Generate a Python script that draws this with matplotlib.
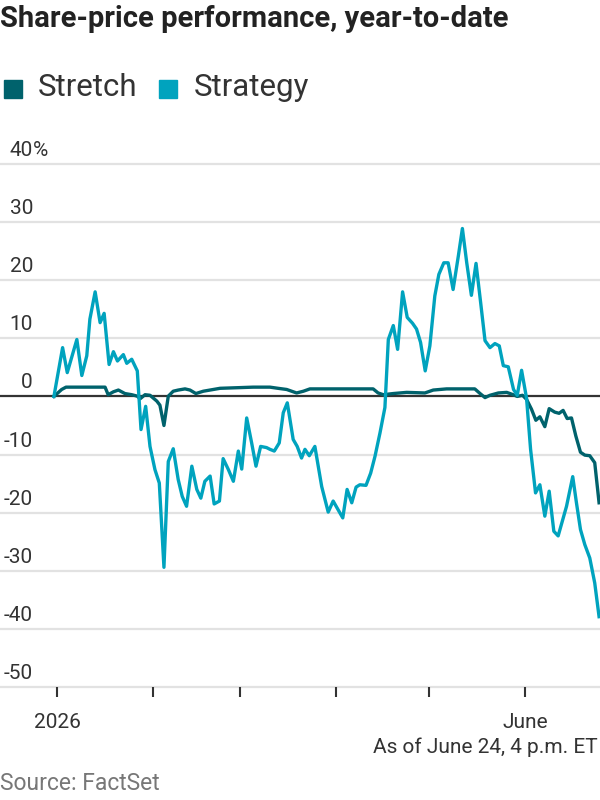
import numpy as np
import pandas as pd
import matplotlib.pyplot as plt
import matplotlib.transforms as mtransforms
from matplotlib.patches import Rectangle

plt.rcParams['font.family'] = ['Roboto', 'DejaVu Sans']

# days counted from Jan 1 2026, values in % change year-to-date
start = pd.Timestamp('2026-01-01')

strategy_days = [-1, 1.8, 3.3, 6.4, 8.0, 9.6, 10.6, 12.3, 13.9, 15.2, 16.8, 18.2, 19.5, 21.4,
                 22.5, 24.1, 25.9, 27.1, 28.6, 30.0, 31.6, 33.0, 34.5, 35.9, 37.5, 39.1,
                 40.4, 41.8, 43.5, 45.1, 46.4, 47.7, 49.4, 50.7, 52.4, 53.6, 55.3, 56.9,
                 58.5, 59.6, 61.2, 62.8, 64.2, 65.7, 67.6, 68.7, 70.1, 71.7, 73.0, 74.3,
                 76.2, 77.5, 78.9, 80.0, 81.4, 83.2, 85.4, 87.5, 89.1, 90.7, 92.2, 93.6,
                 95.1, 96.5, 97.7, 99.7, 101.2, 102.6, 104.2, 105.8, 106.9, 108.5, 109.9,
                 111.5, 113.0, 114.7, 116.0, 117.3, 118.8, 120.3, 121.9, 123.2, 124.8,
                 126.2, 127.8, 129.5, 130.8, 132.2, 133.7, 135.2, 136.7, 138.1, 139.7,
                 141.3, 142.7, 144.0, 145.6, 147.3, 148.5, 149.9, 151.5, 152.8, 154.4,
                 155.8, 157.4, 158.8, 160.3, 161.7, 164.4, 166.4, 167.6, 168.9, 170.3,
                 171.9, 173.5, 174.9]
strategy_vals = [0, 8.4, 4.1, 9.8, 3.6, 7.0, 13.3, 18.0, 12.7, 14.3, 5.5, 7.7, 6.1, 7.2,
                 5.7, 6.4, 4.4, -5.7, -1.7, -8.6, -12.6, -14.9, -29.4, -11.2, -9.0, -14.3,
                 -17.2, -18.9, -12.0, -16.0, -17.5, -14.6, -13.7, -18.5, -18.0, -10.7, -12.6, -14.6,
                 -9.4, -12.5, -3.7, -8.0, -12.0, -8.6, -8.8, -9.1, -9.4, -8.0, -2.8, -1.1,
                 -7.4, -8.6, -10.6, -9.1, -10.2, -8.6, -15.5, -19.9, -18.0, -19.5, -20.9, -16.0,
                 -18.3, -15.6, -15.2, -15.3, -13.2, -10.3, -6.3, -1.9, 9.8, 12.2, 8.1,
                 18.0, 13.6, 12.6, 11.6, 9.3, 4.4, 8.7, 17.3, 21.0, 23.0,
                 23.0, 18.4, 24.2, 28.9, 23.0, 17.4, 22.9, 16.1, 9.6, 8.4,
                 9.1, 8.7, 5.3, 5.1, 1.2, 0.2, 4.5, -0.3, -9.1, -16.6,
                 -15.2, -20.6, -16.3, -23.2, -24.0, -18.9, -13.8, -18.3, -22.9, -25.5,
                 -27.8, -32.1, -37.9]

stretch_days = [-1, 1.5, 2.9, 15.5, 16.5, 18.2, 19.8, 21.9, 24.1, 25.9, 26.8, 28.4, 30.0,
                32.2, 33.2, 34.5, 35.9, 37.5, 39.1, 41.3, 42.9, 44.8, 47.2, 52.6, 63.3,
                68.7, 71.3, 74.1, 77.3, 79.5, 81.6, 102.0, 103.6, 105.3, 108.5, 112.8,
                118.7, 121.4, 125.7, 134.8, 136.5, 138.1, 139.7, 142.4, 145.1, 147.2,
                148.5, 150.2, 151.5, 153.1, 154.5, 155.8, 157.4, 158.8, 160.6, 162.0,
                163.3, 164.6, 166.0, 167.4, 168.9, 170.3, 171.9, 173.5, 174.9]
stretch_vals = [0, 1.2, 1.6, 1.6, 0.3, 0.8, 1.1, 0.5, 0.3, 0.05, -0.4, 0.3, 0.2,
                -0.8, -1.5, -5.0, 0.05, 0.9, 1.1, 1.3, 1.1, 0.5, 0.9, 1.4, 1.6,
                1.6, 1.4, 1.2, 0.6, 0.9, 1.3, 1.3, 0.6, 0.3, 0.5, 0.7,
                0.6, 1.1, 1.3, 1.3, 0.5, -0.2, 0.2, 0.6, 0.7, 0.3,
                0.0, 0.2, -0.5, -2.2, -4.1, -3.5, -5.2, -2.1, -2.7, -2.9,
                -2.4, -3.8, -3.7, -6.8, -9.6, -10.1, -10.2, -11.4, -18.3]

y_ticks = [40, 30, 20, 10, 0, -10, -20, -30, -40, -50]
x_tick_dates = pd.date_range('2026-01-01', '2026-06-01', freq='MS')
x_tick_labels = ['2026', '', '', '', '', 'June']

STRETCH = '#00626c'
STRATEGY = '#00a3be'
TXT = '#333333'

strategy_x = start + pd.to_timedelta(strategy_days, unit='D')
stretch_x = start + pd.to_timedelta(stretch_days, unit='D')

fig = plt.figure(figsize=(6, 8), dpi=100)
ax = fig.add_axes([0, 0.14125, 1, 0.65375])

for v in y_ticks:
    if v == 0:
        continue
    ax.axhline(v, color='#e2e2e2', lw=1.6, zorder=1, clip_on=False)
ax.axhline(0, color='#333333', lw=1.6, zorder=2)

ax.plot(stretch_x, stretch_vals, color=STRETCH, lw=2.4, zorder=3, solid_joinstyle='round')
ax.plot(strategy_x, strategy_vals, color=STRATEGY, lw=2.4, zorder=4, solid_joinstyle='round')

ax.set_ylim(-50, 40)
ax.set_xlim(start - pd.Timedelta(days=18.4), start + pd.Timedelta(days=175.2))
for s in ax.spines.values():
    s.set_visible(False)
ax.set_yticks([])
ax.set_xticks(x_tick_dates)
ax.set_xticklabels(x_tick_labels)
ax.tick_params(axis='x', length=7, width=1.5, color=TXT, labelsize=15, labelcolor=TXT, pad=12)

trans = mtransforms.blended_transform_factory(ax.transAxes, ax.transData)
for v in y_ticks:
    ax.annotate(str(v), xy=(33 / 600, v), xycoords=trans, xytext=(0, 4),
                textcoords='offset pixels', ha='right', va='bottom', fontsize=15, color=TXT)
ax.annotate('%', xy=(33 / 600, 40), xycoords=trans, xytext=(0, 4),
            textcoords='offset pixels', ha='left', va='bottom', fontsize=15, color=TXT)

fig.text(0, 1 - 5 / 800, 'Share-price performance, year-to-date', ha='left', va='top',
         fontsize=21, fontweight='bold', color='#222222')

# legend
fig.add_artist(Rectangle((4 / 600, 1 - 98 / 800), 18 / 600, 18 / 800,
                         transform=fig.transFigure, color=STRETCH))
fig.text(38 / 600, 1 - 88 / 800, 'Stretch', ha='left', va='center', fontsize=22.5, color=TXT)
fig.add_artist(Rectangle((159 / 600, 1 - 98 / 800), 18 / 600, 18 / 800,
                         transform=fig.transFigure, color=STRATEGY))
fig.text(194 / 600, 1 - 88 / 800, 'Strategy', ha='left', va='center', fontsize=22.5, color=TXT)

fig.text(598 / 600, 1 - 747 / 800, 'As of June 24, 4 p.m. ET', ha='right', va='center',
         fontsize=15, color=TXT)
fig.text(0, 1 - 783 / 800, 'Source: FactSet', ha='left', va='center', fontsize=16.5, color='#777777')

fig.savefig('out.png', dpi=100)
